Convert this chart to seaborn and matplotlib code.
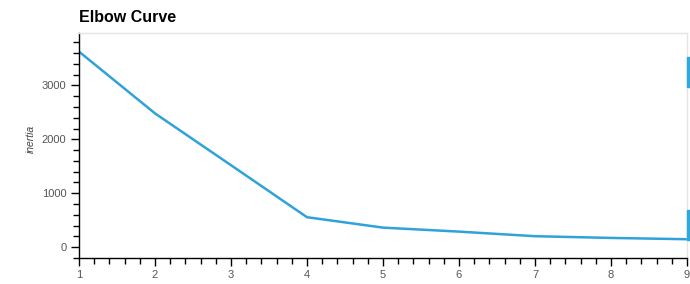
import matplotlib
matplotlib.use("Agg")
import matplotlib.pyplot as plt
import seaborn as sns
import pandas as pd
from matplotlib.ticker import MultipleLocator
from matplotlib.patches import Rectangle

k_values = [1, 2, 3, 4, 5, 6, 7, 8, 9]
inertia = [3625, 2480, 1520, 556, 363, 289, 204, 172, 148]

sns.set_style("ticks")
plt.rcParams['font.family'] = ['Liberation Sans', 'DejaVu Sans']

df = pd.DataFrame({"k": k_values, "inertia": inertia})

fig = plt.figure(figsize=(6.9, 2.84), dpi=100)
W, H = 690, 284
ax = fig.add_axes([79 / W, (H - 258) / H, (687 - 79) / W, (258 - 33) / H])

sns.lineplot(data=df, x="k", y="inertia", ax=ax, color="#30a2da", linewidth=1.8)

ax.set_xlim(1, 9)
ax.set_ylim(-200, 3970)
ax.xaxis.set_major_locator(MultipleLocator(1))
ax.xaxis.set_minor_locator(MultipleLocator(0.2))
ax.yaxis.set_major_locator(MultipleLocator(1000))
ax.yaxis.set_minor_locator(MultipleLocator(200))

for side in ["left", "bottom"]:
    ax.spines[side].set_color("black")
    ax.spines[side].set_linewidth(1.0)
for side in ["top", "right"]:
    ax.spines[side].set_color("#e5e5e5")
    ax.spines[side].set_linewidth(1.0)

ax.tick_params(axis="both", which="major", direction="out", length=6, width=1,
               color="black", labelcolor="#555555", labelsize=8, pad=3)
ax.tick_params(axis="both", which="minor", direction="out", length=4, width=1,
               color="black")

ax.set_xlabel("")
ax.set_ylabel("inertia", fontsize=7.5, style="italic", color="#444444", labelpad=5)
ax.yaxis.set_label_coords(-0.071, 0.53)

fig.text(79 / W, 1 - 18 / H, "Elbow Curve", fontsize=11.5, fontweight="bold",
         ha="left", va="center", color="black")

# toolbar fragments cut at the right edge
fig.patches.append(Rectangle((687 / W, 1 - 87 / H), 3 / W, 30 / H,
                             transform=fig.transFigure, color="#2ea8dd", zorder=5))
fig.patches.append(Rectangle((687 / W, 1 - 240 / H), 3 / W, 30 / H,
                             transform=fig.transFigure, color="#2ea8dd", zorder=5))

fig.savefig("out.png", dpi=100)
